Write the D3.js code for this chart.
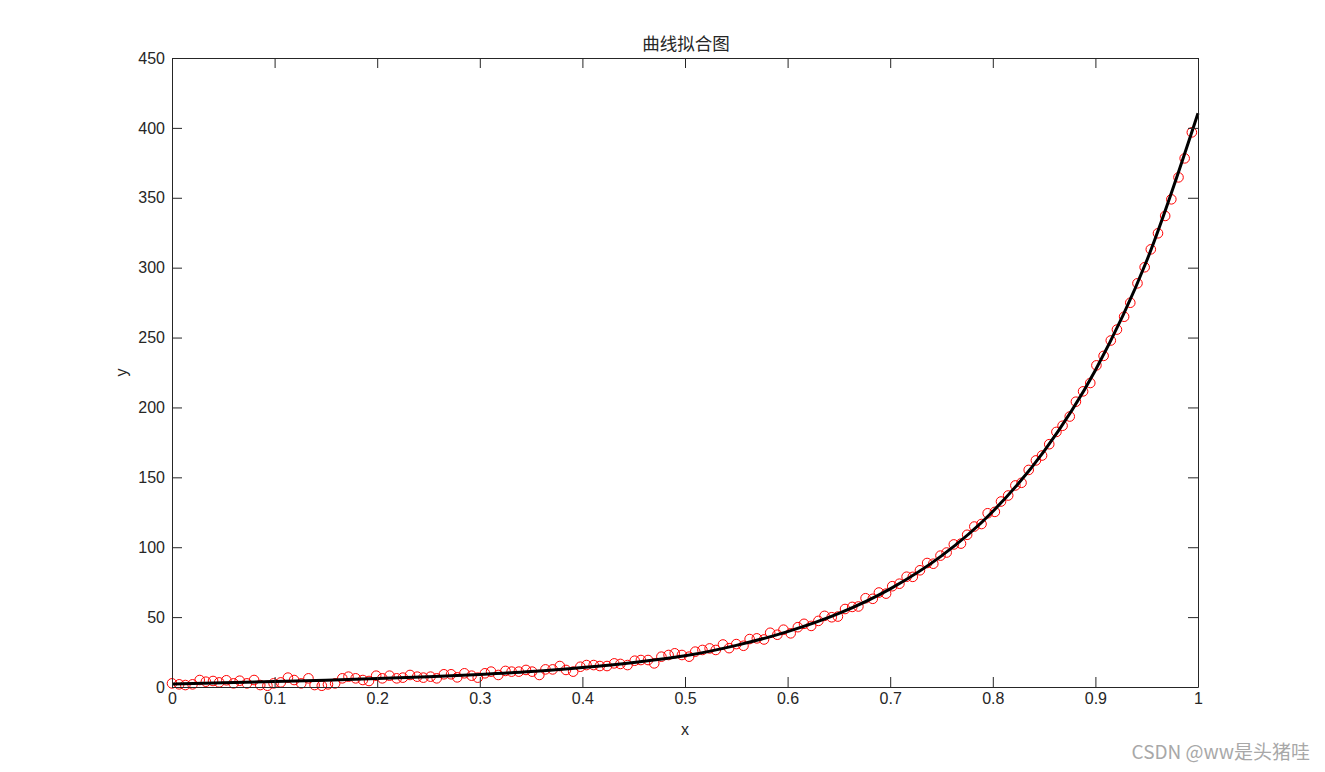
<!DOCTYPE html>
<html>
<head>
<meta charset="utf-8">
<script src="https://cdn.jsdelivr.net/npm/d3@7"></script>
<style>
  html, body { margin: 0; padding: 0; background: #ffffff; }
  svg { display: block; }
</style>
</head>
<body>
<svg id="chart" width="1325" height="772"></svg>
<script>
// ---- data ----
const xs = [
  0.000,0.007,0.013,0.020,0.027,0.033,0.040,0.046,0.053,0.060,
  0.066,0.073,0.080,0.086,0.093,0.099,0.106,0.113,0.119,0.126,
  0.133,0.139,0.146,0.152,0.159,0.166,0.172,0.179,0.186,0.192,
  0.199,0.205,0.212,0.219,0.225,0.232,0.239,0.245,0.252,0.258,
  0.265,0.272,0.278,0.285,0.292,0.298,0.305,0.311,0.318,0.325,
  0.331,0.338,0.345,0.351,0.358,0.364,0.371,0.378,0.384,0.391,
  0.398,0.404,0.411,0.417,0.424,0.431,0.437,0.444,0.451,0.457,
  0.464,0.470,0.477,0.484,0.490,0.497,0.504,0.510,0.517,0.524,
  0.530,0.537,0.543,0.550,0.557,0.563,0.570,0.577,0.583,0.590,
  0.596,0.603,0.610,0.616,0.623,0.630,0.636,0.643,0.649,0.656,
  0.663,0.669,0.676,0.683,0.689,0.696,0.702,0.709,0.716,0.722,
  0.729,0.736,0.742,0.749,0.755,0.762,0.769,0.775,0.782,0.789,
  0.795,0.802,0.808,0.815,0.822,0.828,0.835,0.842,0.848,0.855,
  0.862,0.868,0.875,0.881,0.888,0.895,0.901,0.908,0.915,0.921,
  0.928,0.934,0.941,0.948,0.954,0.961,0.968,0.974,0.981,0.987,
  0.994
];
const ys = [
  2.6,1.9,1.4,1.9,5.0,3.8,4.3,3.3,4.8,2.6,
  4.5,2.6,5.0,1.4,0.9,2.6,3.3,6.7,5.0,2.6,
  6.2,1.4,0.9,1.9,2.6,6.2,7.4,6.2,5.0,4.3,
  8.1,6.2,8.1,6.2,6.7,8.6,7.4,6.7,7.4,6.2,
  9.1,9.1,6.9,9.8,8.1,6.7,9.8,11.0,8.6,11.5,
  11.0,11.0,12.2,11.0,8.6,12.6,12.6,15.0,12.2,11.0,
  14.5,15.7,15.7,15.0,15.0,16.9,16.5,15.7,18.8,19.3,
  19.3,16.9,21.7,22.9,24.1,22.9,21.7,25.3,26.5,27.6,
  26.5,30.4,27.8,30.7,29.5,34.3,34.8,34.0,38.8,37.4,
  41.0,38.4,42.8,45.2,43.7,47.3,50.9,49.9,50.4,55.8,
  57.3,57.6,63.5,63.1,67.6,66.8,72.1,73.9,78.9,78.8,
  83.5,88.7,88.2,94.0,96.2,102.0,102.6,108.9,114.8,116.6,
  124.3,125.3,132.7,137.0,144.2,146.1,155.3,162.1,165.6,173.7,
  182.5,186.9,193.5,204.1,211.5,217.5,230.1,236.9,247.9,255.7,
  264.9,274.9,288.8,300.3,313.1,324.6,337.0,348.9,364.6,378.2,
  396.8
];
// fitted curve
const fitX = [0,0.05,0.1,0.15,0.2,0.25,0.3,0.35,0.4,0.45,0.5,0.55,0.6,0.65,0.7,0.75,0.8,0.85,0.9,0.95,1];
const fitY = [2.2,3.0,3.9,4.9,6.0,7.3,9.0,11.1,14.0,17.6,22.3,29.8,39.6,52.6,70.2,93.8,125.6,168.7,226.6,304.9,410.5];
const xTicks = [0,0.1,0.2,0.3,0.4,0.5,0.6,0.7,0.8,0.9,1];
const yTicks = [0,50,100,150,200,250,300,350,400,450];
const xTickLabels = ["0","0.1","0.2","0.3","0.4","0.5","0.6","0.7","0.8","0.9","1"];
const titleText = "曲线拟合图";
const xLabelText = "x";
const yLabelText = "y";
const watermark = "CSDN @ww是头猪哇";

// ---- layout ----
const L = 172, R = 1198, T = 58, B = 687;
const svg = d3.select("#chart");
const xScale = d3.scaleLinear().domain([0, 1]).range([L, R]);
const yScale = d3.scaleLinear().domain([0, 450]).range([B, T]);
const axisColor = "#262626";
const tickLen = 10;
const font = "'Liberation Sans', Arial, sans-serif";

// data markers
svg.append("g").selectAll("circle")
  .data(xs.map((d, i) => [d, ys[i]]))
  .join("circle")
  .attr("cx", d => xScale(d[0]))
  .attr("cy", d => yScale(d[1]))
  .attr("r", 4.8)
  .attr("fill", "none")
  .attr("stroke", "#ff0000")
  .attr("stroke-width", 1);

// fitted line
const fitLine = d3.line().x(d => xScale(d[0])).y(d => yScale(d[1])).curve(d3.curveMonotoneX);
svg.append("path")
  .datum(fitX.map((d, i) => [d, fitY[i]]))
  .attr("d", fitLine)
  .attr("fill", "none")
  .attr("stroke", "#000000")
  .attr("stroke-width", 3);

// axes (MATLAB style, ticks inward on all sides)
const gBottom = svg.append("g").attr("transform", `translate(0,${B})`)
  .call(d3.axisBottom(xScale).tickValues(xTicks).tickSizeInner(-tickLen).tickSizeOuter(0)
    .tickPadding(6).tickFormat((d, i) => xTickLabels[i]));
const gLeft = svg.append("g").attr("transform", `translate(${L},0)`)
  .call(d3.axisLeft(yScale).tickValues(yTicks).tickSizeInner(-tickLen).tickSizeOuter(0)
    .tickPadding(7).tickFormat(d3.format("d")));
const gTop = svg.append("g").attr("transform", `translate(0,${T})`)
  .call(d3.axisTop(xScale).tickValues(xTicks).tickSizeInner(-tickLen).tickSizeOuter(0).tickFormat(""));
const gRight = svg.append("g").attr("transform", `translate(${R},0)`)
  .call(d3.axisRight(yScale).tickValues(yTicks).tickSizeInner(-tickLen).tickSizeOuter(0).tickFormat(""));

[gBottom, gLeft, gTop, gRight].forEach(g => {
  g.select(".domain").attr("stroke", axisColor).attr("stroke-width", 1);
  g.selectAll(".tick line").attr("stroke", axisColor).attr("stroke-width", 1);
  g.selectAll(".tick text").attr("fill", axisColor)
    .style("font-family", font).style("font-size", "16px");
});

// title & labels
svg.append("text")
  .attr("x", (L + R) / 2 + 1).attr("y", 50)
  .attr("text-anchor", "middle")
  .style("font-family", "'Noto Sans CJK SC', sans-serif")
  .style("font-size", "17.5px")
  .attr("fill", axisColor)
  .text(titleText);

svg.append("text")
  .attr("x", (L + R) / 2).attr("y", 735)
  .attr("text-anchor", "middle")
  .style("font-family", font).style("font-size", "16px")
  .attr("fill", axisColor)
  .text(xLabelText);

svg.append("text")
  .attr("transform", `translate(127,${(T + B) / 2}) rotate(-90)`)
  .attr("text-anchor", "middle")
  .style("font-family", font).style("font-size", "16px")
  .attr("fill", axisColor)
  .text(yLabelText);

svg.append("text")
  .attr("x", 1310).attr("y", 759)
  .attr("text-anchor", "end")
  .style("font-family", "'Noto Sans CJK SC', sans-serif")
  .style("font-size", "19px")
  .attr("fill", "#a8a8a8")
  .text(watermark);
</script>
</body>
</html>
